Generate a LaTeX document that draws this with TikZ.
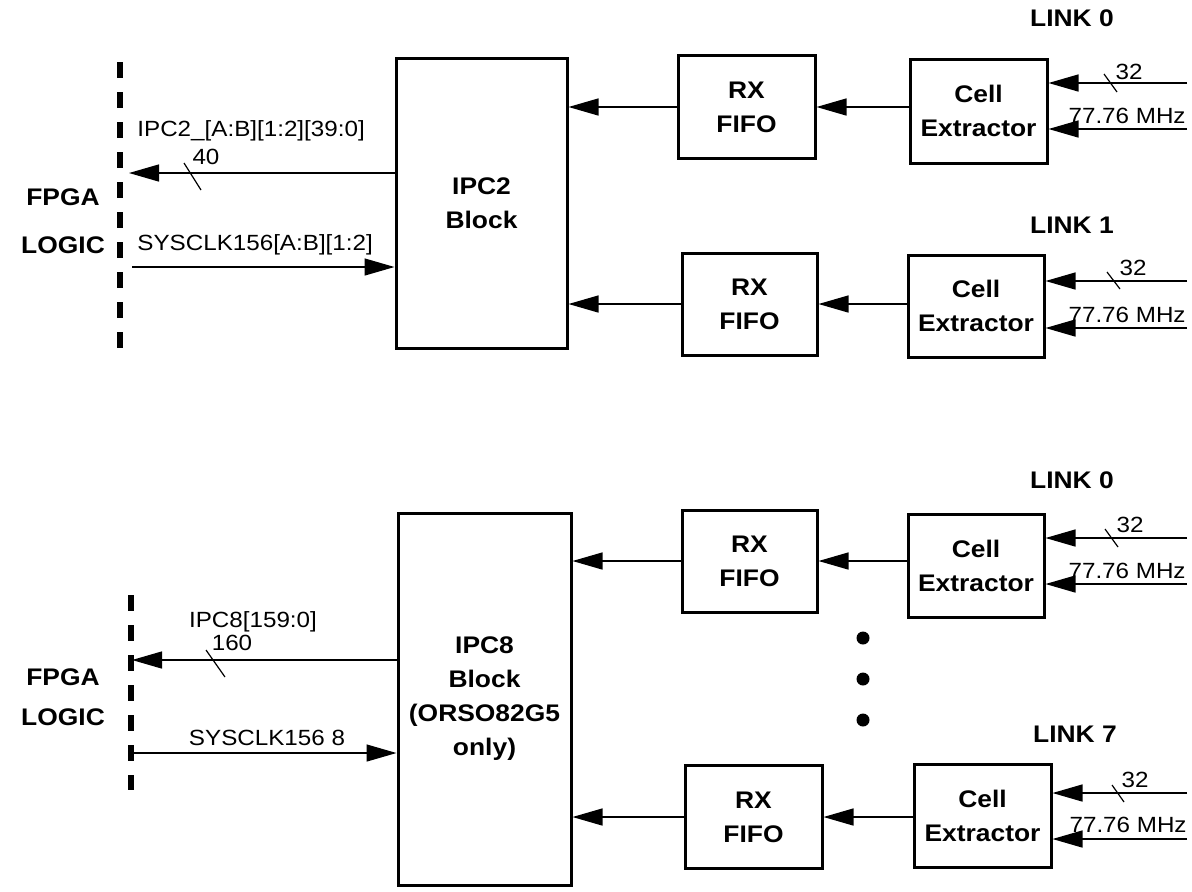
\documentclass[tikz,border=0pt]{standalone}
\usepackage{fontspec}
\setmainfont[FakeStretch=1.1]{Liberation Sans}
\usetikzlibrary{arrows.meta}
\tikzset{
 box/.style={draw, line width=1.5pt, font=\bfseries\fontsize{12}{17}\selectfont, align=center, inner sep=0pt},
 arr/.style={line width=0.7pt, -{Triangle[length=15pt,width=8.5pt]}},
 lbl/.style={font=\fontsize{11}{13}\selectfont, inner sep=0pt},
 blbl/.style={font=\bfseries\fontsize{12}{14}\selectfont, inner sep=0pt},
 fpga/.style={line width=3pt, dash pattern=on 8pt off 7pt},
 tick/.style={line width=0.6pt},
 dot/.style={circle, fill, inner sep=0pt, minimum size=6.5pt},
}
\begin{document}
\begin{tikzpicture}[x=0.5pt,y=-0.5pt]
\useasboundingbox (0,0) rectangle (1192,891);
% ---------------- top ----------------
\draw[fpga] (120,62) -- (120,352);
\node[blbl] (fp1) at (63,197) {FPGA};
\node[blbl] (lo1) at (63,245) {LOGIC};
\node[box, minimum width=85.5pt, minimum height=145pt] (ipc2) at (481.5,203) {IPC2\\Block};
\node[box, minimum width=68.5pt, minimum height=51.5pt] (rx1) at (746.5,107) {RX\\FIFO};
\node[box, minimum width=68.5pt, minimum height=52pt] (cell1) at (978.5,111) {Cell\\Extractor};
\node[box, minimum width=67.5pt, minimum height=51pt] (rx2) at (749.5,304) {RX\\FIFO};
\node[box, minimum width=68pt, minimum height=51pt] (cell2) at (976,306) {Cell\\Extractor};
\node[blbl] (l0) at (1072,18) {LINK 0};
\node[blbl] (l1) at (1072,225) {LINK 1};

\draw[arr] (rx1.west) -- (ipc2.east |- rx1.west);
\draw[arr] (cell1.west |- rx1.east) -- (rx1.east);
\draw[arr] (rx2.west) -- (ipc2.east |- rx2.west);
\draw[arr] (cell2.west |- rx2.east) -- (rx2.east);

\coordinate (f1) at (129,173);
\coordinate (s1) at (132,267);
\draw[arr] (ipc2.west |- f1) -- (f1);
\draw[arr] (s1) -- (ipc2.west |- s1);
\node[lbl, anchor=west] (t1) at (137,131) {IPC2\_[A:B][1:2][39:0]};
\node[lbl] (n40) at (206,157) {40};
\draw[tick] (184,163) -- (201,190);
\node[lbl, anchor=west] (t2) at (137,245) {SYSCLK156[A:B][1:2]};

\coordinate (i1a) at (1187,83);
\coordinate (i1b) at (1187,129);
\draw[arr] (i1a) -- (cell1.east |- i1a);
\draw[arr] (i1b) -- (cell1.east |- i1b);
\draw[tick] (1104,74) -- (1117,92);
\node[lbl] (n32a) at (1129,72) {32};
\node[lbl, anchor=east] (m1) at (1186,116) {77.76 MHz};

\coordinate (i2a) at (1187,281);
\coordinate (i2b) at (1187,328);
\draw[arr] (i2a) -- (cell2.east |- i2a);
\draw[arr] (i2b) -- (cell2.east |- i2b);
\draw[tick] (1107,272) -- (1120,289);
\node[lbl] (n32b) at (1133,268) {32};
\node[lbl, anchor=east] (m2) at (1186,315) {77.76 MHz};

% ---------------- bottom ----------------
\draw[fpga] (131,595) -- (131,790);
\node[blbl] (fp2) at (63,677) {FPGA};
\node[blbl] (lo2) at (63,717) {LOGIC};
\node[box, minimum width=86.5pt, minimum height=186pt] (ipc8) at (484.5,699) {IPC8\\Block\\(ORSO82G5\\only)};
\node[box, minimum width=67.5pt, minimum height=51pt] (rx3) at (749.5,561) {RX\\FIFO};
\node[box, minimum width=68pt, minimum height=51.5pt] (cell3) at (976,565.5) {Cell\\Extractor};
\node[box, minimum width=68.5pt, minimum height=51.5pt] (rx4) at (753.5,817) {RX\\FIFO};
\node[box, minimum width=68.5pt, minimum height=51.5pt] (cell4) at (982.5,815.5) {Cell\\Extractor};
\node[blbl] (l0b) at (1072,480) {LINK 0};
\node[blbl] (l7) at (1075,734) {LINK 7};

\draw[arr] (rx3.west) -- (ipc8.east |- rx3.west);
\draw[arr] (cell3.west |- rx3.east) -- (rx3.east);
\draw[arr] (rx4.west) -- (ipc8.east |- rx4.west);
\draw[arr] (cell4.west |- rx4.east) -- (rx4.east);

\node[dot] (d1) at (863,638) {};
\node[dot] (d2) at (863,679) {};
\node[dot] (d3) at (863,720) {};

\coordinate (f2) at (132,660);
\coordinate (s2) at (131,753);
\draw[arr] (ipc8.west |- f2) -- (f2);
\draw[arr] (s2) -- (ipc8.west |- s2);
\node[lbl] (t3) at (253,622) {IPC8[159:0]};
\node[lbl] (n160) at (232,643) {160};
\draw[tick] (206,650) -- (225,677);
\node[lbl] (t4) at (267,738) {SYSCLK156 8};

\coordinate (i3a) at (1187,538);
\coordinate (i3b) at (1187,584);
\draw[arr] (i3a) -- (cell3.east |- i3a);
\draw[arr] (i3b) -- (cell3.east |- i3b);
\draw[tick] (1105,529) -- (1118,547);
\node[lbl] (n32c) at (1130,525) {32};
\node[lbl, anchor=east] (m3) at (1186,571) {77.76 MHz};

\coordinate (i4a) at (1187,793);
\coordinate (i4b) at (1187,839);
\draw[arr] (i4a) -- (cell4.east |- i4a);
\draw[arr] (i4b) -- (cell4.east |- i4b);
\draw[tick] (1112,785) -- (1124,802);
\node[lbl] (n32d) at (1135,780) {32};
\node[lbl, anchor=east] (m4) at (1187,825) {77.76 MHz};
\end{tikzpicture}
\end{document}
